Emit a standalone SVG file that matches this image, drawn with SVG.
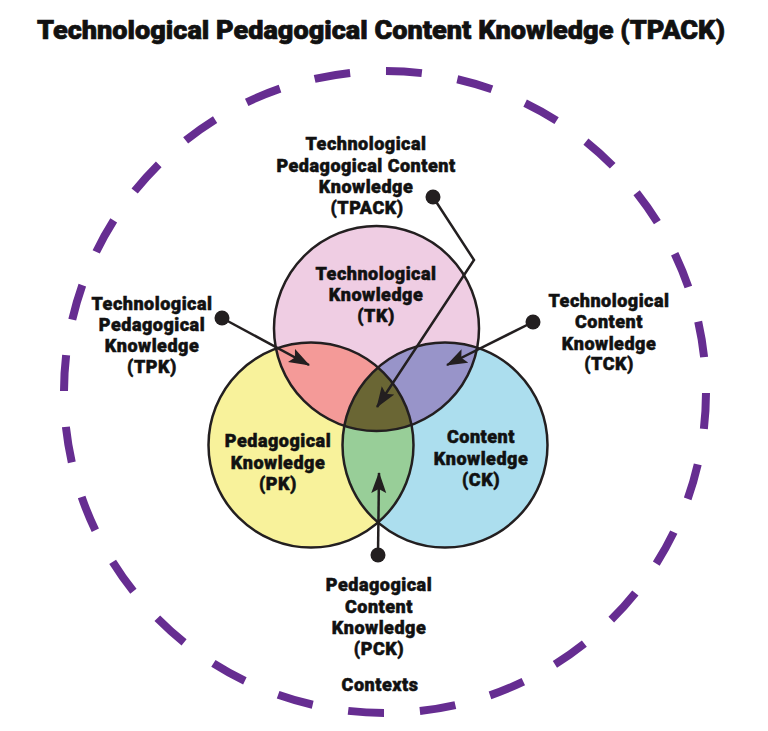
<svg xmlns="http://www.w3.org/2000/svg" width="768" height="731" viewBox="0 0 768 731">
<style>
text{font-family:Roboto,"Liberation Sans",Arial,sans-serif;font-weight:900;fill:#111;stroke:#111;stroke-width:0.5;text-anchor:middle}
.lbl{font-size:18px;letter-spacing:0.5px}
.ttl{font-size:26px;stroke-width:0.7}
.ring{fill:none;stroke:#231f20;stroke-width:2.5}
.con{fill:none;stroke:#231f20;stroke-width:2.5}
.dot{fill:#231f20}
</style>
<defs>
<marker id="ah" markerUnits="userSpaceOnUse" markerWidth="22" markerHeight="16" refX="20" refY="7.5" orient="auto">
<path d="M0,0 L21,7.5 L0,15 L4,7.5 z" fill="#231f20"/>
</marker>
<clipPath id="cTK"><circle cx="376.5" cy="328.5" r="102.5"/></clipPath>
<clipPath id="cPK"><circle cx="311" cy="445" r="102.5"/></clipPath>
<clipPath id="cCK"><circle cx="445" cy="445" r="102.5"/></clipPath>
</defs>
<rect width="768" height="731" fill="#fff"/>
<text class="ttl" x="381" y="39" textLength="688" lengthAdjust="spacingAndGlyphs">Technological Pedagogical Content Knowledge (TPACK)</text>
<g id="contexts">
<circle cx="385" cy="392" r="321" fill="none" stroke="#662d91" stroke-width="8" pathLength="2016" stroke-dasharray="36 36" stroke-dashoffset="-1"/>
<text class="lbl" x="380" y="691">Contexts</text>
</g>
<g id="TK">
<circle cx="376.5" cy="328.5" r="102.5" fill="#efcde3"/>
<text class="lbl" x="376" y="280">Technological</text>
<text class="lbl" x="376" y="301">Knowledge</text>
<text class="lbl" x="376" y="322">(TK)</text>
</g>
<g id="PK">
<circle cx="311" cy="445" r="102.5" fill="#f8f29b"/>
</g>
<g id="CK">
<circle cx="445" cy="445" r="102.5" fill="#acdeee"/>
</g>
<g id="TPK-region"><circle cx="376.5" cy="328.5" r="102.5" fill="#f49a98" clip-path="url(#cPK)"/></g>
<g id="TCK-region"><circle cx="376.5" cy="328.5" r="102.5" fill="#9894c9" clip-path="url(#cCK)"/></g>
<g id="PCK-region"><circle cx="311" cy="445" r="102.5" fill="#98ce98" clip-path="url(#cCK)"/></g>
<g id="TPACK-region"><g clip-path="url(#cPK)"><circle cx="376.5" cy="328.5" r="102.5" fill="#6a6634" clip-path="url(#cCK)"/></g></g>
<g id="outlines">
<circle class="ring" cx="376.5" cy="328.5" r="102.5"/>
<circle class="ring" cx="311" cy="445" r="102.5"/>
<circle class="ring" cx="445" cy="445" r="102.5"/>
</g>
<g id="PK-label">
<text class="lbl" x="278" y="447">Pedagogical</text>
<text class="lbl" x="278" y="469">Knowledge</text>
<text class="lbl" x="278" y="490">(PK)</text>
</g>
<g id="CK-label">
<text class="lbl" x="481" y="443">Content</text>
<text class="lbl" x="481" y="465">Knowledge</text>
<text class="lbl" x="481" y="486">(CK)</text>
</g>
<g id="TPACK-label">
<text class="lbl" x="366" y="150">Technological</text>
<text class="lbl" x="366" y="172">Pedagogical Content</text>
<text class="lbl" x="366" y="193">Knowledge</text>
<text class="lbl" x="367" y="214">(TPACK)</text>
</g>
<g id="TPK-label">
<text class="lbl" x="152" y="310">Technological</text>
<text class="lbl" x="152" y="331">Pedagogical</text>
<text class="lbl" x="152" y="352">Knowledge</text>
<text class="lbl" x="152" y="373">(TPK)</text>
</g>
<g id="TCK-label">
<text class="lbl" x="609" y="307">Technological</text>
<text class="lbl" x="609" y="328">Content</text>
<text class="lbl" x="609" y="350">Knowledge</text>
<text class="lbl" x="609" y="370">(TCK)</text>
</g>
<g id="PCK-label">
<text class="lbl" x="379" y="591">Pedagogical</text>
<text class="lbl" x="379" y="613">Content</text>
<text class="lbl" x="379" y="634">Knowledge</text>
<text class="lbl" x="379" y="655">(PCK)</text>
</g>
<g id="connectors">
<polyline class="con" points="433,197 474,260 377,407" marker-end="url(#ah)"/>
<line class="con" x1="222" y1="318" x2="309" y2="365" marker-end="url(#ah)"/>
<line class="con" x1="533" y1="322" x2="447" y2="365" marker-end="url(#ah)"/>
<line class="con" x1="378" y1="555" x2="379" y2="473" marker-end="url(#ah)"/>
<circle class="dot" cx="433" cy="197" r="7.5"/>
<circle class="dot" cx="222" cy="318" r="7.5"/>
<circle class="dot" cx="533" cy="322" r="7.5"/>
<circle class="dot" cx="378" cy="555" r="7.5"/>
</g>
</svg>
